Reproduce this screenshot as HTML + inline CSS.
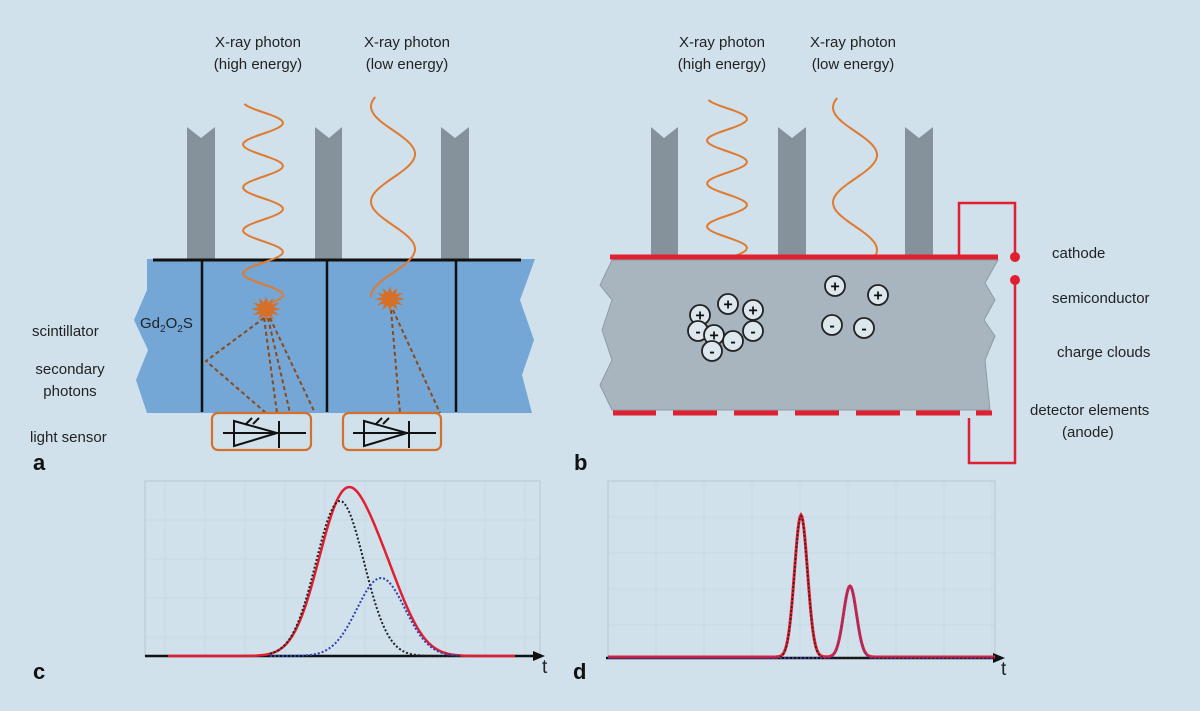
<!DOCTYPE html>
<html><head><meta charset="utf-8"><style>
html,body{margin:0;padding:0;background:#d0e1ec;}
svg{display:block;font-family:"Liberation Sans",sans-serif;}
</style></head><body>
<svg id="s" width="1200" height="711" viewBox="0 0 1200 711" xmlns="http://www.w3.org/2000/svg">
<rect width="1200" height="711" fill="#d0e1ec"/>
<g font-size="15" fill="#222" text-anchor="middle">
<text x="258" y="47">X-ray photon</text><text x="258" y="69">(high energy)</text>
<text x="407" y="47">X-ray photon</text><text x="407" y="69">(low energy)</text>
<text x="722" y="47">X-ray photon</text><text x="722" y="69">(high energy)</text>
<text x="853" y="47">X-ray photon</text><text x="853" y="69">(low energy)</text>
</g>
<path d="M147,259 L535,259 L520,300 L534,340 L522,375 L532,413 L147,413 L136,380 L148,350 L134,320 L147,290 Z" fill="#74a6d6"/>
<g fill="#85929b">
<path d="M187,127 L201,138 L215,127 L215,259 L187,259 Z"/>
<path d="M315,127 L329,138 L342,127 L342,259 L315,259 Z"/>
<path d="M441,127 L455,138 L469,127 L469,259 L441,259 Z"/>
<path d="M651,127 L664,138 L678,127 L678,257 L651,257 Z"/>
<path d="M778,127 L792,138 L806,127 L806,257 L778,257 Z"/>
<path d="M905,127 L919,138 L933,127 L933,257 L905,257 Z"/>
</g>
<line x1="153" y1="260" x2="521" y2="260" stroke="#111" stroke-width="3"/>
<g stroke="#111" stroke-width="2.5"><line x1="202" y1="260" x2="202" y2="412"/><line x1="327" y1="260" x2="327" y2="412"/><line x1="456" y1="260" x2="456" y2="412"/></g>
<g stroke="#8a4a1a" stroke-width="2" stroke-dasharray="4,3" fill="none">
<path d="M264,318 L206,361 L266,413"/><path d="M264,318 L277,413"/><path d="M268,318 L290,413"/><path d="M270,318 L315,413"/>
<path d="M391,310 L400,413"/><path d="M393,310 L440,413"/>
</g>
<path id="w1" fill="none" stroke="#e07a30" stroke-width="2"/>
<path id="w2" fill="none" stroke="#e07a30" stroke-width="2"/>
<path id="w3" fill="none" stroke="#e07a30" stroke-width="2"/>
<path id="w4" fill="none" stroke="#e07a30" stroke-width="2"/>
<g id="stars" fill="#d4702a"></g>
<text x="140" y="328" font-size="15" fill="#222">Gd<tspan font-size="10" dy="4">2</tspan><tspan dy="-4">O</tspan><tspan font-size="10" dy="4">2</tspan><tspan dy="-4">S</tspan></text>
<g fill="none" stroke="#d4702a" stroke-width="2.2"><rect x="212" y="413" width="99" height="37" rx="6"/><rect x="343" y="413" width="98" height="37" rx="6"/></g>
<g fill="none" stroke="#111" stroke-width="2">
<path d="M223,433 H306 M234,421 L234,446 L277,433 Z M279,421 V448 M252,418 l-6,6 M259,418 l-6,6"/>
<path d="M353,433 H436 M364,421 L364,446 L407,433 Z M409,421 V448 M382,418 l-6,6 M389,418 l-6,6"/>
</g>
<g font-size="15" fill="#222">
<text x="32" y="336">scintillator</text><text x="70" y="374" text-anchor="middle">secondary</text><text x="70" y="396" text-anchor="middle">photons</text><text x="30" y="442">light sensor</text>
<text x="1052" y="258">cathode</text><text x="1052" y="303">semiconductor</text><text x="1057" y="357">charge clouds</text><text x="1030" y="415">detector elements</text><text x="1062" y="437">(anode)</text>
<text x="952" y="336">CdTe</text>
</g>
<g font-size="22" font-weight="bold" fill="#111"><text x="33" y="470">a</text><text x="574" y="470">b</text><text x="33" y="679">c</text><text x="573" y="679">d</text></g>
<path d="M612,260 L998,260 L985,283 L995,300 L984,320 L995,336 L985,360 L990,410 L612,410 L600,385 L612,360 L602,330 L612,300 L600,285 Z" fill="#a8b5be" stroke="#8e9aa3"/>
<line x1="610" y1="257" x2="998" y2="257" stroke="#e02030" stroke-width="5"/>
<g stroke="#e02030" stroke-width="5"><line x1="613" y1="413" x2="656" y2="413"/><line x1="673" y1="413" x2="717" y2="413"/><line x1="734" y1="413" x2="778" y2="413"/><line x1="795" y1="413" x2="839" y2="413"/><line x1="856" y1="413" x2="900" y2="413"/><line x1="916" y1="413" x2="960" y2="413"/><line x1="976" y1="413" x2="992" y2="413"/></g>
<g fill="none" stroke="#e02030" stroke-width="2.5"><path d="M959,257 V203 H1015 V257"/><path d="M1015,280 V463 H969 V418"/></g>
<circle cx="1015" cy="257" r="5" fill="#e02030"/><circle cx="1015" cy="280" r="5" fill="#e02030"/>
<g id="ch" font-size="16" font-weight="bold" text-anchor="middle"></g>
<g id="grid" stroke="#c3d6e2" stroke-width="0.7"></g>
<g stroke="#b5c6d2" stroke-width="1" fill="none"><path d="M145,656 V481 H540 V656"/><path d="M608,658 V481 H995 V658"/></g>
<g stroke="#111" stroke-width="2.5"><line x1="145" y1="656" x2="535" y2="656"/><line x1="606" y1="658" x2="995" y2="658"/></g>
<path d="M545,656 L533,651 L533,661 Z M1005,658 L993,653 L993,663 Z" fill="#111"/>
<text x="542" y="673" font-size="19" fill="#222">t</text><text x="1001" y="675" font-size="19" fill="#222">t</text>
<g id="curves" fill="none"></g>
</svg>
<script>
function wave(x0,y0,y1,amp,per,ph){let d="";for(let y=y0;y<=y1;y+=2){let x=x0+amp*Math.sin((y-y0)/per*2*Math.PI+ph);d+=(d?"L":"M")+x.toFixed(1)+","+y;}return d;}
document.getElementById("w1").setAttribute("d",wave(263,104,305,20,43,-1.2));
document.getElementById("w2").setAttribute("d",wave(393,97,298,22,95,-2.2));
document.getElementById("w3").setAttribute("d",wave(727,100,320,20,43,-1.2));
document.getElementById("w4").setAttribute("d",wave(855,98,300,22,95,-2.2));
const st=document.getElementById("stars");
[[266,309],[390,299],[730,322],[852,305]].forEach(([cx,cy])=>{let p="";for(let i=0;i<24;i++){let r=i%2?8:15,a=i/24*2*Math.PI;p+=(p?"L":"M")+(cx+r*Math.cos(a)).toFixed(1)+","+(cy+r*Math.sin(a)*0.85).toFixed(1);}st.innerHTML+=`<path d="${p}Z"/>`;});
const ch=document.getElementById("ch");
[[700,315,"+"],[728,304,"+"],[753,310,"+"],[698,331,"-"],[714,335,"+"],[733,341,"-"],[753,331,"-"],[712,351,"-"],[835,286,"+"],[878,295,"+"],[832,325,"-"],[864,328,"-"]].forEach(([x,y,t])=>{ch.innerHTML+=`<circle cx="${x}" cy="${y}" r="10" fill="#dde8ee" stroke="#222" stroke-width="1.8"/><text x="${x}" y="${y+5.5}" fill="#111">${t}</text>`;});
const g=document.getElementById("grid");let gs="";
for(let x=165;x<540;x+=40)gs+=`<line x1="${x}" y1="481" x2="${x}" y2="656"/>`;for(let y=520;y<656;y+=39)gs+=`<line x1="145" y1="${y}" x2="540" y2="${y}"/>`;
for(let x=656;x<995;x+=48)gs+=`<line x1="${x}" y1="481" x2="${x}" y2="658"/>`;for(let y=517;y<658;y+=36)gs+=`<line x1="608" y1="${y}" x2="995" y2="${y}"/>`;
g.innerHTML=gs;
function gp(x0,x1,base,comps,sc){sc=sc||1;let d="";for(let x=x0;x<=x1;x+=1){let v=0;comps.forEach(([m,s,h])=>{v+=h*Math.exp(-((x-m)**2)/(2*s*s));});d+=(d?"L":"M")+x+","+(base-v*sc).toFixed(1);}return d;}
const cv=document.getElementById("curves");
const A=[340,24,155],B=[381,24,78];
cv.innerHTML=`<path d="${gp(168,515,656,[[342,25,155],[382,25,78]],0.93)}" stroke="#e02030" stroke-width="2.5"/>
<path d="${gp(270,460,656,[A])}" stroke="#222" stroke-width="2" stroke-dasharray="2,2"/>
<path d="${gp(270,460,656,[B])}" stroke="#3040b0" stroke-width="2" stroke-dasharray="2,2"/>`;
const C=[801,6.5,142],D=[850,6.5,71];
cv.innerHTML+=`<path d="${gp(608,995,657,[C,D])}" stroke="#e02030" stroke-width="3"/>
<path d="${gp(608,995,658,[C])}" stroke="#222" stroke-width="1.5" stroke-dasharray="2,2"/>
<path d="${gp(608,995,658,[D])}" stroke="#5040c0" stroke-width="1.5" stroke-dasharray="2,2"/>`;
</script>
</body></html>
